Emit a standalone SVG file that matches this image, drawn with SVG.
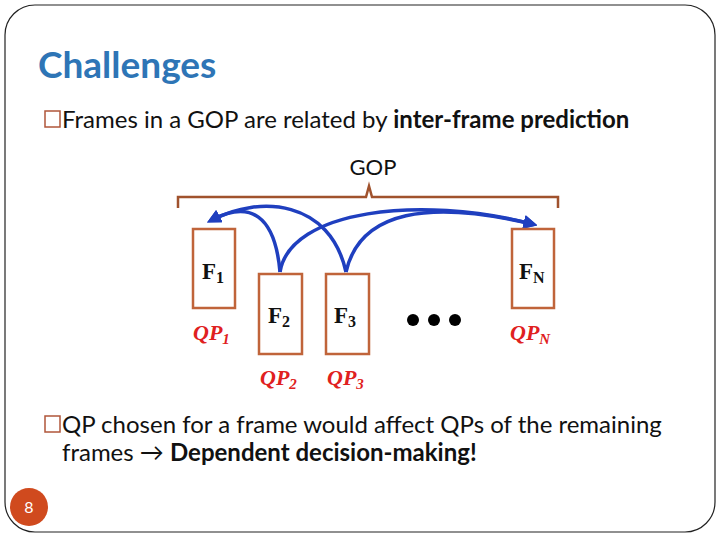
<svg xmlns="http://www.w3.org/2000/svg" width="720" height="540" viewBox="0 0 720 540">
<defs>
<style>
.box{fill:#fff;stroke:#C0643A;stroke-width:2.5}
.fl{font-family:"Liberation Serif",serif;font-weight:bold;font-size:23px;fill:#111}
.sub{font-size:16px}
.qp{font-family:"Liberation Serif",serif;font-weight:bold;font-style:italic;font-size:22px;fill:#E02020}
.qs{font-size:15px}
.arc{fill:none;stroke:#1F3FBF;stroke-width:3.5}
.txt{font-family:Lato,"Liberation Sans",sans-serif;font-size:24px;fill:#111}
.bul{fill:none;stroke:#B0563A;stroke-width:1.5}
</style>
<marker id="ah" viewBox="0 0 10 10" refX="6" refY="5" markerWidth="4" markerHeight="4" orient="auto"><path d="M0,0L10,5L0,10z" fill="#1F3FBF"/></marker>
</defs>
<rect x="5" y="5" width="710" height="527" rx="30" fill="#fff" stroke="#222" stroke-width="1.2"/>
<text x="38" y="78" font-family="Lato,'Liberation Sans',sans-serif" font-size="37" font-weight="bold" fill="#2E75B6">Challenges</text>
<rect class="bul" x="45" y="111" width="15" height="16"/>
<text class="txt" x="62" y="128">Frames in a GOP are related by <tspan font-weight="bold">inter-frame prediction</tspan></text>
<text x="373" y="175" text-anchor="middle" font-family="Lato,'Liberation Sans',sans-serif" font-size="22" fill="#111">GOP</text>
<path d="M178,208 L178,197 L366,197 L369,186 L372,197 L558,197 L558,208" fill="none" stroke="#A0522D" stroke-width="2.5"/>
<g id="connectors">
<path class="arc" d="M280,272 C275,215 250,200 212,220" marker-end="url(#ah)"/>
<path class="arc" d="M346,272 C330,200 260,195 212,220" marker-end="url(#ah)"/>
<path class="arc" d="M280,272 C290,210 420,195 532,224" marker-end="url(#ah)"/>
<path class="arc" d="M346,272 C360,210 430,200 532,224" marker-end="url(#ah)"/>
</g>
<g id="f1"><rect class="box" x="193" y="229" width="42" height="79"/><text class="fl" x="202" y="279">F<tspan class="sub" dy="4">1</tspan></text><text class="qp" x="193" y="340">QP<tspan class="qs" dy="4">1</tspan></text></g>
<g id="f2"><rect class="box" x="259" y="274" width="43" height="80"/><text class="fl" x="268" y="323">F<tspan class="sub" dy="4">2</tspan></text><text class="qp" x="260" y="385">QP<tspan class="qs" dy="4">2</tspan></text></g>
<g id="f3"><rect class="box" x="326" y="274" width="43" height="80"/><text class="fl" x="334" y="323">F<tspan class="sub" dy="4">3</tspan></text><text class="qp" x="327" y="385">QP<tspan class="qs" dy="4">3</tspan></text></g>
<g id="fn"><rect class="box" x="512" y="229" width="42" height="79"/><text class="fl" x="519" y="279">F<tspan class="sub" dy="4">N</tspan></text><text class="qp" x="510" y="340">QP<tspan class="qs" dy="4">N</tspan></text></g>
<g id="dots" fill="#000"><circle cx="413" cy="320" r="6"/><circle cx="434" cy="320" r="6"/><circle cx="455" cy="320" r="6"/></g>
<rect class="bul" x="45" y="416" width="15" height="16"/>
<text class="txt" x="62" y="433">QP chosen for a frame would affect QPs of the remaining</text>
<text class="txt" x="62" y="461">frames → <tspan font-weight="bold">Dependent decision-making!</tspan></text>
<circle cx="29" cy="507" r="19" fill="#D04A1E"/>
<text x="29" y="513" text-anchor="middle" font-family="Lato,'Liberation Sans',sans-serif" font-size="16" fill="#fff">8</text>
</svg>
